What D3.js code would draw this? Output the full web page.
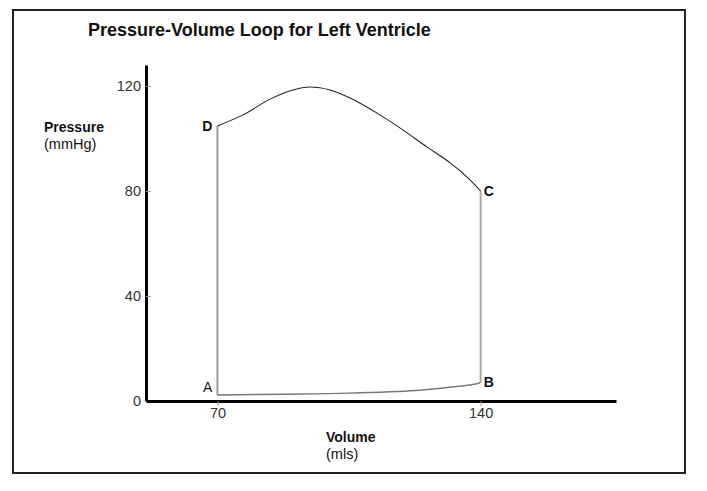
<!DOCTYPE html>
<html>
<head>
<meta charset="utf-8" />
<title>Pressure-Volume Loop</title>
<script src="https://d3js.org/d3.v7.min.js"></script>
<style>
  body { margin: 0; background: #fff; }
  svg text { font-family: Arial, "Liberation Sans", sans-serif; }
</style>
</head>
<body>
<svg id="chart" width="707" height="491"></svg>
<script>
// loop data (volume in mls, pressure in mmHg)
var fillingCurve = [   // A -> B
  [70, 2.3], [87.4, 2.6], [105, 3.0], [122.8, 4.0], [131.6, 5.2], [138.7, 6.5], [140, 7.1]
];
var contractionLine = [[140, 7.1], [140, 80]];   // B -> C
var ejectionCurve = [  // C -> D (drawn from D)
  [70, 104.8], [76.8, 109], [84, 115], [90.1, 118.5], [94.6, 119.6], [99.9, 118.5],
  [105.3, 115.4], [113.2, 109], [119.4, 103.2], [125.7, 96.8],
  [131.9, 90.7], [136.4, 85.3], [140, 80]
];
var relaxationLine = [[70, 104.8], [70, 2.3]];   // D -> A
var cornerLabels = [
  {name: "A", v: 70, p: 2.3},
  {name: "B", v: 140, p: 7.1},
  {name: "C", v: 140, p: 80},
  {name: "D", v: 70, p: 104.8}
];
var xTicks = [70, 140];
var yTicks = [0, 40, 80, 120];

var svg = d3.select("#chart");

// frame
svg.append("rect")
  .attr("x", 13).attr("y", 10)
  .attr("width", 672).attr("height", 463)
  .attr("fill", "none")
  .attr("stroke", "#222")
  .attr("stroke-width", 2);

svg.append("text")
  .attr("x", 88).attr("y", 36)
  .attr("font-size", 18).attr("font-weight", "bold")
  .attr("fill", "#111")
  .text("Pressure-Volume Loop for Left Ventricle");

var x = d3.scaleLinear().domain([51, 176]).range([146, 616]);
var y = d3.scaleLinear().domain([0, 128]).range([401, 65]);

// axes
var yAxis = svg.append("g")
  .attr("transform", "translate(146,0)")
  .call(d3.axisLeft(y).tickValues(yTicks).tickSizeInner(-5).tickSizeOuter(0).tickPadding(5));
var xAxis = svg.append("g")
  .attr("transform", "translate(0,401)")
  .call(d3.axisBottom(x).tickValues(xTicks).tickSizeInner(5).tickSizeOuter(0).tickPadding(2));

[xAxis, yAxis].forEach(function(a) {
  a.select(".domain").attr("stroke", "#000").attr("stroke-width", 3);
  a.selectAll(".tick line").attr("stroke", "#999");
  a.selectAll(".tick text")
    .attr("font-size", 14.5)
    .attr("fill", "#333")
    .attr("font-family", "Arial, 'Liberation Sans', sans-serif");
});

// loop
var line = d3.line()
  .x(function(d) { return x(d[0]); })
  .y(function(d) { return y(d[1]); })
  .curve(d3.curveCatmullRom.alpha(0.5));
var straight = d3.line()
  .x(function(d) { return x(d[0]); })
  .y(function(d) { return y(d[1]); });

svg.append("path").datum(relaxationLine)
  .attr("d", straight).attr("fill", "none")
  .attr("stroke", "#999").attr("stroke-width", 2);
svg.append("path").datum(contractionLine)
  .attr("d", straight).attr("fill", "none")
  .attr("stroke", "#aaa").attr("stroke-width", 2);
svg.append("path").datum(fillingCurve)
  .attr("d", line).attr("fill", "none")
  .attr("stroke", "#777").attr("stroke-width", 1.5);
svg.append("path").datum(ejectionCurve)
  .attr("d", line).attr("fill", "none")
  .attr("stroke", "#222").attr("stroke-width", 1.1);

// corner letters
svg.selectAll(".corner")
  .data(cornerLabels)
  .enter().append("text")
  .attr("class", "corner")
  .attr("x", function(d) { return d.v === 70 ? x(d.v) - 5 : x(d.v) + 3; })
  .attr("y", function(d) { return y(d.p) + (d.name === "A" ? -3 : 5); })
  .attr("text-anchor", function(d) { return d.v === 70 ? "end" : "start"; })
  .attr("font-size", 14)
  .attr("font-weight", function(d) { return d.name === "A" ? "normal" : "bold"; })
  .attr("fill", "#111")
  .text(function(d) { return d.name; });

// axis titles
var yt = svg.append("text").attr("x", 44).attr("y", 132).attr("font-size", 14).attr("fill", "#111");
yt.append("tspan").attr("font-weight", "bold").text("Pressure");
yt.append("tspan").attr("x", 44).attr("dy", 17).attr("font-size", 14.5).text("(mmHg)");

var xt = svg.append("text").attr("x", 326).attr("y", 442).attr("font-size", 14).attr("fill", "#111");
xt.append("tspan").attr("font-weight", "bold").text("Volume");
xt.append("tspan").attr("x", 326).attr("dy", 17).attr("font-size", 14.5).text("(mls)");
</script>
</body>
</html>
